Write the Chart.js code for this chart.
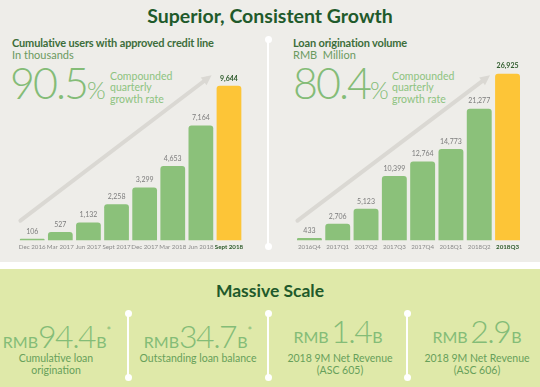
<!DOCTYPE html>
<html>
<head>
<meta charset="utf-8">
<script src="https://cdn.jsdelivr.net/npm/chart.js@4.4.0/dist/chart.umd.min.js"></script>
<style>
  body { margin: 0; width: 540px; height: 387px; overflow: hidden; position: relative;
         font-family: Lato, "Noto Sans", sans-serif; background: #fff; }
  .top { position: absolute; left: 0; top: 0; width: 540px; height: 262px; background: #eeede9; }
  .bottom { position: absolute; left: 0; top: 269px; width: 540px; height: 118px; background: #dfe9a9; }
  .t { position: absolute; white-space: nowrap; line-height: 1; }
  .title { left: 0; width: 540px; text-align: center; font-weight: 700; color: #1f5a2b; }
  .sub { font-size: 11px; font-weight: 700; color: #3d6d3b; letter-spacing: -0.15px; }
  .unit { font-size: 11px; color: #6b9a5f; }
  .pct { font-size: 43px; font-weight: 300; color: #84bc77; letter-spacing: -2px; }
  .pct small { font-size: 24px; letter-spacing: 0; }
  .cagr { font-size: 10.5px; line-height: 11.5px; color: #8dc380; }
  .vline { position: absolute; width: 2px; background: #fff; }
  .dot { position: absolute; width: 7px; height: 7px; border-radius: 50%; background: #fff; }
  canvas { position: absolute; }
  .stat { position: absolute; width: 140px; text-align: center; white-space: nowrap;
          font-size: 32px; line-height: 32px; color: #84bc77; }
  .stat .big { font-weight: 300; letter-spacing: -1.5px; margin-right: 1px; }
  .stat .rmb { font-size: 16px; }
  .stat sup { font-size: 11px; vertical-align: 13px; }
  .lab { position: absolute; width: 150px; text-align: center; font-size: 10.5px; line-height: 12px;
         font-weight: 400; color: #67a05a; }
</style>
</head>
<body>
<div class="top"></div>
<div class="bottom"></div>

<div class="t title" style="top:5.5px;font-size:19.5px">Superior, Consistent Growth</div>

<div class="t sub" style="left:12px;top:37px">Cumulative users with approved credit line</div>
<div class="t unit" style="left:12px;top:48.5px">In thousands</div>
<div class="t pct" style="left:10px;top:61px">90.5<small>%</small></div>
<div class="t cagr" style="left:110px;top:70.5px">Compounded<br>quarterly<br>growth rate</div>

<div class="t sub" style="left:293px;top:37px">Loan origination volume</div>
<div class="t unit" style="left:293px;top:48.5px">RMB&nbsp; Million</div>
<div class="t pct" style="left:293px;top:61px">80.4<small>%</small></div>
<div class="t cagr" style="left:392px;top:70.5px">Compounded<br>quarterly<br>growth rate</div>

<div class="vline" style="left:267px;top:39px;height:207px"></div>
<div class="dot" style="left:264.5px;top:36px"></div>
<div class="dot" style="left:264.5px;top:243px"></div>

<canvas id="usersChart" width="230" height="194" style="left:16px;top:60px"></canvas>
<canvas id="loanChart" width="227" height="194" style="left:295px;top:60px"></canvas>

<div class="t title" style="top:282px;font-size:17.5px">Massive Scale</div>

<div class="vline" style="left:127px;top:313px;height:64px"></div>
<div class="dot" style="left:124.5px;top:310px"></div>
<div class="dot" style="left:124.5px;top:374px"></div>
<div class="vline" style="left:267px;top:313px;height:64px"></div>
<div class="dot" style="left:264.5px;top:310px"></div>
<div class="dot" style="left:264.5px;top:374px"></div>
<div class="vline" style="left:406px;top:313px;height:64px"></div>
<div class="dot" style="left:403.5px;top:310px"></div>
<div class="dot" style="left:403.5px;top:374px"></div>

<div class="stat" style="left:-13px;top:315px"><span class="rmb">RMB</span><span class="big">94.4</span><span class="rmb">B</span><sup>*</sup></div>
<div class="lab" style="left:-19px;top:352px">Cumulative loan<br>origination</div>

<div class="stat" style="left:128px;top:315px"><span class="rmb">RMB</span><span class="big">34.7</span><span class="rmb">B</span><sup>*</sup></div>
<div class="lab" style="left:123px;top:352px">Outstanding loan balance</div>

<div class="stat" style="left:268px;top:315px"><span class="rmb">RMB</span><span class="big">&#8201;1.4</span><span class="rmb">B</span></div>
<div class="lab" style="left:265px;top:352px">2018 9M Net Revenue<br>(ASC 605)</div>

<div class="stat" style="left:407px;top:315px"><span class="rmb">RMB</span><span class="big">&#8201;2.9</span><span class="rmb">B</span></div>
<div class="lab" style="left:402px;top:352px">2018 9M Net Revenue<br>(ASC 606)</div>

<script>
// cumulative users with approved credit line, thousands
const userPeriods = ['Dec 2016', 'Mar 2017', 'Jun 2017', 'Sept 2017', 'Dec 2017', 'Mar 2018', 'Jun 2018', 'Sept 2018'];
const userValues = [106, 527, 1132, 2258, 3299, 4653, 7164, 9644];

// loan origination volume, RMB million
const loanQuarters = ['2016Q4', '2017Q1', '2017Q2', '2017Q3', '2017Q4', '2018Q1', '2018Q2', '2018Q3'];
const loanValues = [433, 2706, 5123, 10399, 12764, 14773, 21277, 26925];

const GREEN = '#8bc17a';
const YELLOW = '#fdc537';

const isLast = (i, n) => i === n - 1;

// grey growth arrow behind the bars
const arrowPlugin = {
    id: 'growthArrow',
    beforeDatasetsDraw(chart) {
        const { ctx, chartArea: a } = chart;
        const w = a.right - a.left, h = a.bottom - a.top;
        const x0 = a.left + w * 0.01, y0 = a.bottom - h * 0.11;
        const x1 = a.left + w * 0.86, y1 = a.bottom - h * 0.915;
        const ang = Math.atan2(y1 - y0, x1 - x0);
        ctx.save();
        ctx.strokeStyle = '#dad8d3';
        ctx.fillStyle = '#dad8d3';
        ctx.lineWidth = 4;
        ctx.lineCap = 'round';
        ctx.beginPath();
        ctx.moveTo(x0, y0);
        ctx.lineTo(x1 - Math.cos(ang) * 6, y1 - Math.sin(ang) * 6);
        ctx.stroke();
        ctx.beginPath();
        ctx.moveTo(x1, y1);
        ctx.lineTo(x1 - Math.cos(ang - 0.45) * 11, y1 - Math.sin(ang - 0.45) * 11);
        ctx.lineTo(x1 - Math.cos(ang + 0.45) * 11, y1 - Math.sin(ang + 0.45) * 11);
        ctx.closePath();
        ctx.fill();
        ctx.restore();
    }
};

// value labels above each bar
const valueLabels = {
    id: 'valueLabels',
    afterDatasetsDraw(chart) {
        const { ctx } = chart;
        const meta = chart.getDatasetMeta(0);
        const data = chart.data.datasets[0].data;
        ctx.save();
        ctx.textAlign = 'center';
        ctx.textBaseline = 'bottom';
        meta.data.forEach((bar, i) => {
            const last = isLast(i, data.length);
            ctx.font = (last ? '700 ' : '400 ') + '7px Lato, sans-serif';
            ctx.fillStyle = last ? '#2c5a2a' : '#7d7d7d';
            ctx.fillText(data[i].toLocaleString('en-US'), bar.x, bar.y - 4);
        });
        ctx.restore();
    }
};

function makeChart(id, labels, values, yMax) {
    return new Chart(document.getElementById(id), {
        type: 'bar',
        data: {
            labels: labels,
            datasets: [{
                data: values,
                backgroundColor: values.map((v, i) => isLast(i, values.length) ? YELLOW : GREEN),
                borderRadius: 3,
                borderSkipped: 'bottom',
                categoryPercentage: 1,
                barPercentage: 0.88
            }]
        },
        options: {
            responsive: false,
            animation: false,
            layout: { padding: 0 },
            plugins: { legend: { display: false }, tooltip: { enabled: false } },
            scales: {
                x: {
                    grid: { display: false, drawTicks: false },
                    border: { display: false },
                    ticks: {
                        autoSkip: false,
                        maxRotation: 0,
                        minRotation: 0,
                        padding: 3,
                        color: ctx => isLast(ctx.index, labels.length) ? '#2c5a2a' : '#8a8a8a',
                        font: ctx => ({
                            family: 'Lato, sans-serif',
                            size: 6.2,
                            weight: isLast(ctx.index, labels.length) ? '700' : '400'
                        })
                    }
                },
                y: { display: false, min: 0, max: yMax }
            }
        },
        plugins: [arrowPlugin, valueLabels]
    });
}

makeChart('usersChart', userPeriods, userValues, 11250);
makeChart('loanChart', loanQuarters, loanValues, 29130);
</script>
</body>
</html>
